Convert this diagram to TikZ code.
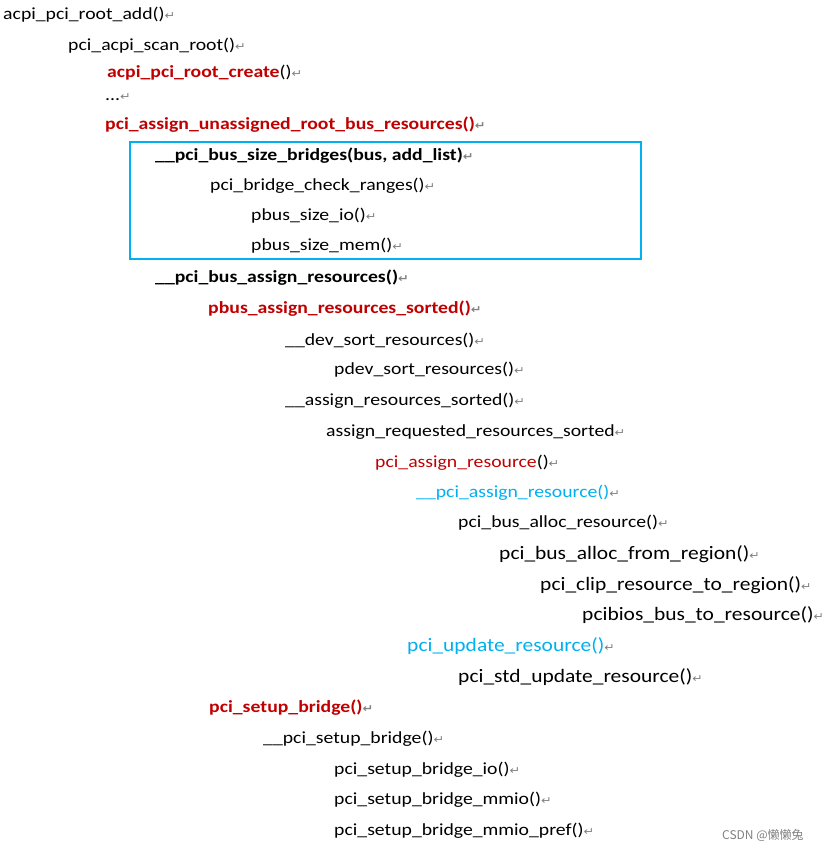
\documentclass[tikz,border=0pt]{standalone}
\usepackage{fontspec}
\setmainfont{Carlito}
\newfontfamily\arrowfont{DejaVu Sans}
\newfontfamily\cjk{Noto Sans CJK SC}
\definecolor{dred}{RGB}{192,0,0}
\definecolor{lblue}{RGB}{0,176,240}
\definecolor{retgray}{RGB}{130,130,130}
\newcommand{\rt}{{\color{retgray}\arrowfont\fontsize{11}{11}\selectfont\char"21B5}}
\tikzset{ln/.style={anchor=west,inner sep=0pt,transform shape,xscale=1.16,font=\fontsize{17}{20}\selectfont},
 big/.style={anchor=west,inner sep=0pt,transform shape,xscale=1.13,font=\fontsize{19}{22}\selectfont},
 bf/.style={font=\fontsize{17}{20}\selectfont\bfseries},
 red/.style={text=dred},blue/.style={text=lblue}}
\begin{document}
\begin{tikzpicture}[x=1pt,y=-1pt]
\useasboundingbox (0,0) rectangle (840,851);
\node[ln] (a1) at (3,15) {acpi\_pci\_root\_add()\rt};
\node[ln] (a2) at (68,46) {pci\_acpi\_scan\_root()\rt};
\node[ln] (a3) at (107,73) {{\color{dred}\bfseries acpi\_pci\_root\_create}()\rt};
\node[ln] (a4) at (105,97) {...\rt};
\node[ln,bf,red] (a5) at (105,125) {pci\_assign\_unassigned\_root\_bus\_resources()\rt};
\node[ln,bf] (a6) at (155,156) {\_\_pci\_bus\_size\_bridges(bus, add\_list)\rt};
\node[ln] (a7) at (210,186) {pci\_bridge\_check\_ranges()\rt};
\node[ln] (a8) at (251,216) {pbus\_size\_io()\rt};
\node[ln] (a9) at (251,246) {pbus\_size\_mem()\rt};
\draw[lblue,line width=1.3pt] (130,142) rectangle (641,259);
\node[ln,bf] (b1) at (155,278) {\_\_pci\_bus\_assign\_resources()\rt};
\node[ln,bf,red] (b2) at (208,309) {pbus\_assign\_resources\_sorted()\rt};
\node[ln] (b3) at (285,340) {\_\_dev\_sort\_resources()\rt};
\node[ln] (b4) at (334,370) {pdev\_sort\_resources()\rt};
\node[ln] (b5) at (285,401) {\_\_assign\_resources\_sorted()\rt};
\node[ln] (b6) at (326,432) {assign\_requested\_resources\_sorted\rt};
\node[ln] (b7) at (375,463) {{\color{dred}pci\_assign\_resource}()\rt};
\node[ln,blue] (b8) at (416,493) {\_\_pci\_assign\_resource()\rt};
\node[ln] (b9) at (458,523) {pci\_bus\_alloc\_resource()\rt};
\node[big] (c1) at (499,554) {pci\_bus\_alloc\_from\_region()\rt};
\node[big] (c2) at (540,585) {pci\_clip\_resource\_to\_region()\rt};
\node[big] (c3) at (582,615) {pcibios\_bus\_to\_resource()\rt};
\node[big,blue] (c4) at (407,646) {pci\_update\_resource()\rt};
\node[big] (c5) at (458,677) {pci\_std\_update\_resource()\rt};
\node[ln,bf,red] (d1) at (209,708) {pci\_setup\_bridge()\rt};
\node[ln] (d2) at (263,739) {\_\_pci\_setup\_bridge()\rt};
\node[ln] (d3) at (334,770) {pci\_setup\_bridge\_io()\rt};
\node[ln] (d4) at (334,800) {pci\_setup\_bridge\_mmio()\rt};
\node[ln] (d5) at (334,831) {pci\_setup\_bridge\_mmio\_pref()\rt};
\node[anchor=west,inner sep=0pt,text=gray,font=\cjk\fontsize{12}{14}\selectfont] (wm) at (722,835) {CSDN @懒懒兔};
\end{tikzpicture}
\end{document}
